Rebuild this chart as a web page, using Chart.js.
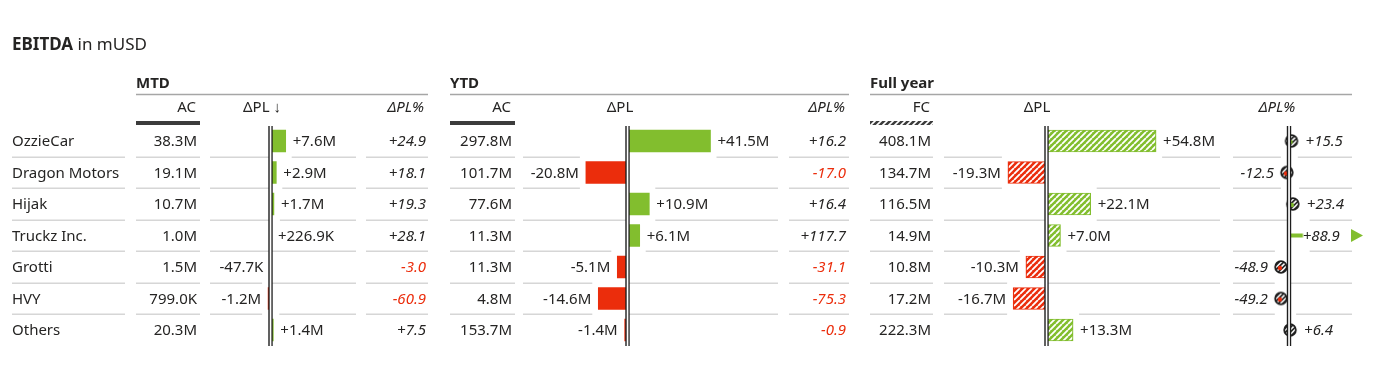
<!DOCTYPE html>
<html>
<head>
<meta charset="utf-8">
<script src="https://cdn.jsdelivr.net/npm/chart.js@4.4.1/dist/chart.umd.min.js"></script>
<style>
  html, body { margin: 0; padding: 0; background: #fff; }
  canvas { display: block; }
</style>
</head>
<body>
<canvas id="ebitda" width="1391" height="373"></canvas>
<script>
// EBITDA in mUSD (values in millions)
const categories = ['OzzieCar', 'Dragon Motors', 'Hijak', 'Truckz Inc.', 'Grotti', 'HVY', 'Others'];

// MTD
const mtdAC = [38.3, 19.1, 10.7, 1.0, 1.5, 0.799, 20.3];
const mtdDeltaPL = [7.6, 2.9, 1.7, 0.2269, -0.0477, -1.2, 1.4];
const mtdDeltaPLPct = [24.9, 18.1, 19.3, 28.1, -3.0, -60.9, 7.5];

// YTD
const ytdAC = [297.8, 101.7, 77.6, 11.3, 11.3, 4.8, 153.7];
const ytdDeltaPL = [41.5, -20.8, 10.9, 6.1, -5.1, -14.6, -1.4];
const ytdDeltaPLPct = [16.2, -17.0, 16.4, 117.7, -31.1, -75.3, -0.9];

// Full year (forecast)
const fyFC = [408.1, 134.7, 116.5, 14.9, 10.8, 17.2, 222.3];
const fyDeltaPL = [54.8, -19.3, 22.1, 7.0, -10.3, -16.7, 13.3];
const fyDeltaPLPct = [15.5, -12.5, 23.4, 88.9, -48.9, -49.2, 6.4];

const pctOutlierLimit = 80; // pins above this get an arrow instead of a head

const FONT = '"Segoe UI", "Noto Sans", sans-serif';
const TEXT = '#252423';
const GREEN = '#82be2e';
const RED = '#eb2d0c';
const SEP = '#d6d6d6';
const W = 1391;
const PX_PER_M = 2;
const PX_PER_PCT = 0.165;

// pixel of the zero line in each column
const zeroAt = { xm: 270.5, xy: 627.5, xf: 1046.5, xp: 1289 };

// table column spans used for the row separators
const colSpans = [[12, 125], [136, 200], [210, 356], [366, 428], [450, 515], [523, 778],
                  [789, 849], [870, 933], [944, 1220], [1233, 1352]];

const cv = document.getElementById('ebitda');
const c2d = cv.getContext('2d');

function hatch(bg, fg, size, lw) {
  const c = document.createElement('canvas');
  c.width = c.height = size;
  const g = c.getContext('2d');
  g.fillStyle = bg;
  g.fillRect(0, 0, size, size);
  g.strokeStyle = fg;
  g.lineWidth = lw;
  g.beginPath();
  for (const o of [-size, 0, size]) {
    g.moveTo(o, size);
    g.lineTo(o + size, 0);
  }
  g.stroke();
  return c2d.createPattern(c, 'repeat');
}

function pinHead(color) {
  const c = document.createElement('canvas');
  c.width = c.height = 16;
  const g = c.getContext('2d');
  g.save();
  g.beginPath();
  g.arc(8, 8, 5.8, 0, Math.PI * 2);
  g.clip();
  g.fillStyle = '#fff';
  g.fillRect(0, 0, 16, 16);
  g.strokeStyle = '#1e1e1e';
  g.lineWidth = 1.7;
  for (let k = -16; k <= 32; k += 4.6) {
    g.beginPath();
    g.moveTo(k, 16);
    g.lineTo(k + 16, 0);
    g.stroke();
  }
  g.fillStyle = color;
  g.beginPath();
  g.arc(7, 9, 2.2, 0, Math.PI * 2);
  g.fill();
  g.restore();
  g.strokeStyle = '#1e1e1e';
  g.lineWidth = 1.8;
  g.beginPath();
  g.arc(8, 8, 5.8, 0, Math.PI * 2);
  g.stroke();
  return c;
}

const greenHatch = hatch(GREEN, '#ffffff', 6, 1.8);
const redHatch = hatch(RED, '#ffffff', 6, 1.8);
const fcHatch = hatch('#3c3c3c', '#ffffff', 6, 1.6);
const headPos = pinHead(GREEN);
const headNeg = pinHead(RED);

function fmtM(v) {
  const a = Math.abs(v);
  const s = a < 1 ? (a * 1000).toFixed(1) + 'K' : a.toFixed(1) + 'M';
  return (v < 0 ? '-' : '') + s;
}
function fmtDelta(v) { return (v > 0 ? '+' : '') + fmtM(v); }
function fmtPct(v) { return (v > 0 ? '+' : '') + v.toFixed(1); }
const signColor = arr => arr.map(v => v >= 0 ? GREEN : RED);

function valueAxis(id, pxPerUnit) {
  const min = -zeroAt[id] / pxPerUnit;
  return { type: 'linear', axis: 'x', display: false, bounds: 'data', min: min, max: min + W / pxPerUnit };
}

const tablePlugin = {
  id: 'ebitdaTable',
  beforeDatasetsDraw(chart) {
    const ctx = chart.ctx;
    const ys = chart.scales.y;
    ctx.save();
    // row separators
    ctx.strokeStyle = SEP;
    ctx.lineWidth = 1.5;
    for (let i = 0; i < categories.length - 1; i++) {
      const y = Math.round((ys.getPixelForValue(i) + ys.getPixelForValue(i + 1)) / 2) + 0.25;
      colSpans.forEach(([a, b]) => {
        ctx.beginPath();
        ctx.moveTo(a, y);
        ctx.lineTo(b, y);
        ctx.stroke();
      });
    }
    // white halos around bars and pins cut the separators
    ctx.fillStyle = '#fff';
    chart.data.datasets.forEach((ds, di) => {
      chart.getDatasetMeta(di).data.forEach(el => {
        if (ds.type === 'line') {
          if (el.skip) return;
          ctx.fillRect(el.x - 6, el.y - 17, 12, 34);
          return;
        }
        const w = el.x - el.base;
        if (Math.abs(w) < 1) return;
        const x0 = w > 0 ? el.base : el.x - 6;
        const x1 = w > 0 ? el.x + 6 : el.base;
        ctx.fillRect(x0, el.y - 17, x1 - x0, 34);
      });
    });
    ctx.restore();
  },
  afterDatasetsDraw(chart) {
    const ctx = chart.ctx;
    const ys = chart.scales.y;
    const rowY = i => ys.getPixelForValue(i) + 1;
    ctx.save();

    // double zero lines
    ['xm', 'xy', 'xf', 'xp'].forEach(id => {
      const x = chart.scales[id].getPixelForValue(0);
      ctx.fillStyle = '#fff';
      ctx.fillRect(x - 1.5, 126, 3, 220);
      ctx.fillStyle = '#1e1e1e';
      ctx.fillRect(x - 2.2, 126, 1.4, 220);
      ctx.fillRect(x + 0.9, 126, 1.3, 220);
    });

    // bar value labels
    ctx.font = `15px ${FONT}`;
    ctx.fillStyle = TEXT;
    ctx.textBaseline = 'middle';
    [[0, mtdDeltaPL], [1, ytdDeltaPL], [2, fyDeltaPL]].forEach(([di, vals]) => {
      chart.getDatasetMeta(di).data.forEach((el, i) => {
        const v = vals[i];
        const x0 = Math.min(el.x, el.base), x1 = Math.max(el.x, el.base);
        if (v >= 0) {
          ctx.textAlign = 'left';
          ctx.fillText(fmtDelta(v), x1 + 7, el.y + 1);
        } else {
          ctx.textAlign = 'right';
          ctx.fillText(fmtDelta(v), x0 - 7, el.y + 1);
        }
      });
    });

    // names and AC / FC values
    categories.forEach((name, i) => {
      const y = rowY(i);
      ctx.font = `15px ${FONT}`;
      ctx.fillStyle = TEXT;
      ctx.textAlign = 'left';
      ctx.fillText(name, 12, y);
      ctx.textAlign = 'right';
      ctx.fillText(fmtM(mtdAC[i]), 197, y);
      ctx.fillText(fmtM(ytdAC[i]), 512, y);
      ctx.fillText(fmtM(fyFC[i]), 931, y);
      // relative deltas
      ctx.font = `italic 15px ${FONT}`;
      ctx.fillStyle = mtdDeltaPLPct[i] < 0 ? RED : TEXT;
      ctx.fillText(fmtPct(mtdDeltaPLPct[i]), 426, y);
      ctx.fillStyle = ytdDeltaPLPct[i] < 0 ? RED : TEXT;
      ctx.fillText(fmtPct(ytdDeltaPLPct[i]), 846, y);
    });

    // pin labels (full year ΔPL%)
    const stems = chart.getDatasetMeta(3).data;
    const heads = chart.getDatasetMeta(4).data;
    ctx.font = `italic 15px ${FONT}`;
    ctx.fillStyle = TEXT;
    fyDeltaPLPct.forEach((v, i) => {
      const y = rowY(i);
      if (v > pctOutlierLimit) {
        const xe = stems[i].x;
        ctx.textAlign = 'left';
        ctx.fillStyle = 'rgba(255,255,255,0.75)';
        ctx.fillRect(xe - 1, y - 9, 40, 16);
        ctx.fillStyle = TEXT;
        ctx.fillText(fmtPct(v), xe - 1, y);
        ctx.fillStyle = GREEN;
        ctx.beginPath();
        ctx.moveTo(1351, y - 7.5);
        ctx.lineTo(1363, y - 1);
        ctx.lineTo(1351, y + 5.5);
        ctx.closePath();
        ctx.fill();
        return;
      }
      const hx = heads[i].x;
      ctx.fillStyle = TEXT;
      if (v >= 0) {
        ctx.textAlign = 'left';
        ctx.fillText(fmtPct(v), hx + 14, y);
      } else {
        ctx.textAlign = 'right';
        ctx.fillText(fmtPct(v), hx - 13, y);
      }
    });

    // title
    ctx.textAlign = 'left';
    ctx.fillStyle = TEXT;
    ctx.font = `bold 17px ${FONT}`;
    ctx.fillText('EBITDA', 12, 45);
    const tw = ctx.measureText('EBITDA').width;
    ctx.font = `17px ${FONT}`;
    ctx.fillText(' in mUSD', 12 + tw, 45);

    // section headers
    ctx.font = `bold 15px ${FONT}`;
    ctx.fillText('MTD', 136, 84);
    ctx.fillText('YTD', 450, 84);
    ctx.fillText('Full year', 870, 84);
    ctx.strokeStyle = '#a6a6a6';
    ctx.lineWidth = 1.6;
    [[136, 428], [450, 849], [870, 1352]].forEach(([a, b]) => {
      ctx.beginPath();
      ctx.moveTo(a, 94.5);
      ctx.lineTo(b, 94.5);
      ctx.stroke();
    });

    // column headers
    ctx.font = `15px ${FONT}`;
    ctx.textAlign = 'right';
    ctx.fillText('AC', 196, 108);
    ctx.fillText('AC', 511, 108);
    ctx.fillText('FC', 930, 108);
    ctx.textAlign = 'left';
    ctx.fillText('ΔPL ↓', 243, 108);
    ctx.textAlign = 'center';
    ctx.fillText('ΔPL', 620, 108);
    ctx.fillText('ΔPL', 1037, 108);
    ctx.font = `italic 15px ${FONT}`;
    ctx.textAlign = 'right';
    ctx.fillText('ΔPL%', 424, 108);
    ctx.fillText('ΔPL%', 845, 108);
    ctx.textAlign = 'center';
    ctx.fillText('ΔPL%', 1277, 108);

    // AC / FC underlines
    ctx.fillStyle = '#3c3c3c';
    ctx.fillRect(136, 121, 64, 4);
    ctx.fillRect(450, 121, 65, 4);
    ctx.fillStyle = fcHatch;
    ctx.fillRect(870, 121, 63, 4);

    ctx.restore();
  }
};

new Chart(cv, {
  type: 'bar',
  data: {
    labels: categories,
    datasets: [
      {
        label: 'MTD ΔPL', xAxisID: 'xm', yAxisID: 'y', data: mtdDeltaPL,
        backgroundColor: signColor(mtdDeltaPL), grouped: false, barThickness: 22, order: 2
      },
      {
        label: 'YTD ΔPL', xAxisID: 'xy', yAxisID: 'y', data: ytdDeltaPL,
        backgroundColor: signColor(ytdDeltaPL), grouped: false, barThickness: 22, order: 2
      },
      {
        label: 'FY ΔPL', xAxisID: 'xf', yAxisID: 'y', data: fyDeltaPL,
        backgroundColor: fyDeltaPL.map(v => v >= 0 ? greenHatch : redHatch),
        borderColor: signColor(fyDeltaPL), borderWidth: 1.2, borderSkipped: false,
        grouped: false, barThickness: 22, order: 2
      },
      {
        label: 'FY ΔPL% stem', xAxisID: 'xp', yAxisID: 'y', data: fyDeltaPLPct,
        backgroundColor: signColor(fyDeltaPLPct), grouped: false, barThickness: 3.5, order: 1
      },
      {
        type: 'line', indexAxis: 'y', label: 'FY ΔPL% pin', xAxisID: 'xp', yAxisID: 'y',
        data: fyDeltaPLPct.map(v => v > pctOutlierLimit ? null : v),
        showLine: false, pointRadius: 5,
        pointStyle: ctx => (fyDeltaPLPct[ctx.dataIndex] >= 0 ? headPos : headNeg),
        order: 0
      }
    ]
  },
  options: {
    indexAxis: 'y',
    responsive: false,
    animation: false,
    devicePixelRatio: 1,
    layout: { autoPadding: false, padding: { top: 125.25, bottom: 27.25, left: 0, right: 0 } },
    plugins: { legend: { display: false }, tooltip: { enabled: false }, title: { display: false } },
    scales: {
      y: { type: 'category', display: false, offset: true },
      xm: valueAxis('xm', PX_PER_M),
      xy: valueAxis('xy', PX_PER_M),
      xf: valueAxis('xf', PX_PER_M),
      xp: valueAxis('xp', PX_PER_PCT)
    }
  },
  plugins: [tablePlugin]
});
</script>
</body>
</html>
